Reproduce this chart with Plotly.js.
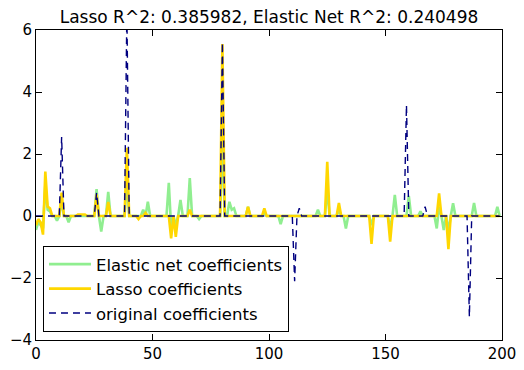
<!DOCTYPE html>
<html>
<head>
<meta charset="utf-8">
<script src="https://cdn.plot.ly/plotly-3.0.1.min.js"></script>
<style>html,body{margin:0;padding:0;background:#fff;}#chart{width:524px;height:370px;}</style>
</head>
<body>
<div id="chart"></div>
<script>
// Elastic net coefficients (index 0..199)
var elasticNet = [
 -0.45,-0.2,-0.3,-0.4,1.0,0.2,0.15,0,0,-0.15, 0,0.5,0,0,-0.2,0,0,0,0,0,
 0,0,0,0,0,0,0.87,0,-0.5,0, 0,0.78,0,0,0,0,0,0,0,1.2,
 0,0,0,0,0,0,0.2,0,0.46,0, 0,0,0,0,0,0,0,1.07,-0.4,0,
 -0.3,0,0.52,0,0,0,1.22,0,0,0, -0.1,0,0,0,0,0,0,0,0,0,
 2.5,0,0,0.46,0.2,0.25,0,0,0,0, 0,0.3,0,0,0,0,0,0,0.1,0,
 0,0,0,0,0,-0.26,0,0,0,0, 0,0,0,0,0,0,0,0,0,0,
 0,0.2,0,0,0,0.9,0,0,0,0, 0.2,0,0,-0.4,0,0,0,0,0,0,
 0,0,0,0,-0.3,0,0,0,0,0, 0,0,-0.4,0,0.68,0,0,0,0,0,
 0.65,0,0,0,0,0.15,0,0,0,0, 0,0,-0.4,0.3,0,-0.45,0,-0.5,0,0.41,
 0,0,0,0,0,0,0,0,0.42,0, 0,0,0,0,0,0,0,0,0.3,0
];
// Lasso coefficients
var lasso = [
 -0.3,-0.1,-0.2,-0.6,1.43,0.3,0.25,0,0,0, 0,0.75,0,0,0,0,0,0,0.05,0.05,
 0.05,0.05,0,0,0,0,0.7,0,0,0, 0,0.45,0,0,0,0,0,0,0,2.2,
 0,0,0,0,-0.1,0,0,0.1,0,0, 0,0,0,0,0,0,0,0,-0.72,0,
 -0.67,0,0,0,0,0,0.2,0,0,0, 0,0,0,0,0,0,0,0,0,0,
 5.55,0,0,0,0,0,0,0,0,0, 0,0.3,0,0,0,0,0,0,0.25,0,
 0,0,0,0,0,0,0,0,0,0, 0,0,0,0,0,0,0,0,0,0,
 0,0,0,0,0,1.75,0,0,0,0, 0.42,0,0,0,0,0,0,0,0,0,
 0,0,0,0,-0.9,0,0,0,0,0, 0,0,-0.83,0,0,0,0,0,0,0,
 0,0,0,0,0,0,0,0,0,0, 0,0,0,0.73,0,0,0,-1.07,0,0,
 0,0,0,0,0,0,0,0,0,0, 0,0,0,0,0,0,0,0,0,0
];
// Original coefficients
var original = [
 0,0,0,0,0,0,0,0,0,0, 0,2.55,0,0,0,0,0,0,0,0,
 0,0,0,0,0,0,0.75,0,0,0, 0,0,0,0,0,0,0,0,0,6.6,
 0,0,0,0,0,0,0,0,0,0, 0,0,0,0,0,0,0,0,0,0,
 0,0,0,0,0,0,0,0,0,0, 0,0,0,0,0,0,0,0,0,0,
 5.6,0,0,0,0,0,0,0,0,0, 0,0,0,0,0,0,0,0,0,0,
 0,0,0,0,0,0,0,0,0,0, 0,-2.1,0,0.25,0,0,0,0,0,0,
 0,0,0,0,0,0,0,0,0,0, 0,0,0,0,0,0,0,0,0,0,
 0,0,0,0,0,0,0,0,0,0, 0,0,0,0,0,0,0,0,0,3.58,
 0,0,0,0,0,0,0,0.3,0,0, 0,0,0,0,0,0,0,0,0,0,
 0,0,0,0,0,0,-3.25,0,0,0, 0,0,0,0,0,0,0,0,0,0
];
var seriesNames = ["Elastic net coefficients", "Lasso coefficients", "original coefficients"];
var xTickVals = [0, 50, 100, 150, 200];
var xTickText = ["0", "50", "100", "150", "200"];
var yTickVals = [-4, -2, 0, 2, 4, 6];
var chartTitle = "Lasso R^2: 0.385982, Elastic Net R^2: 0.240498";

var font = "DejaVu Sans, sans-serif";
var traces = [
  {y: elasticNet, type: "scatter", mode: "lines", name: seriesNames[0], legendgroup: "a",
   line: {color: "#90ee90", width: 2.6}},
  {y: lasso, type: "scatter", mode: "lines", name: seriesNames[1], legendgroup: "b",
   line: {color: "#ffd700", width: 2.6}},
  {y: original, type: "scatter", mode: "lines", name: seriesNames[2], legendgroup: "c",
   line: {color: "#000080", width: 1.4, dash: "7px,5px"}}
];
var axisCommon = {
  showgrid: false, zeroline: false, showline: true, linecolor: "#000", linewidth: 1,
  mirror: "allticks", ticks: "inside", ticklen: 6, tickcolor: "#000", tickwidth: 1,
  tickfont: {family: font, size: 15, color: "#000"}
};
var layout = {
  width: 524, height: 370,
  margin: {l: 36, r: 22, t: 30, b: 30},
  paper_bgcolor: "#fff", plot_bgcolor: "#fff",
  font: {family: font, color: "#000"},
  title: {text: chartTitle, font: {family: font, size: 17, color: "#000"},
          x: 0.5, xref: "paper", y: 1 - 17/370, yref: "container", yanchor: "middle"},
  xaxis: Object.assign({}, axisCommon, {range: [0, 200], tickvals: xTickVals, ticktext: xTickText}),
  yaxis: Object.assign({}, axisCommon, {range: [-4, 6], tickvals: yTickVals}),
  showlegend: true,
  legend: {x: 0.015, y: 0.026, xanchor: "left", yanchor: "bottom",
           bgcolor: "#fff", bordercolor: "#000", borderwidth: 1,
           traceorder: "grouped", tracegroupgap: 0, itemwidth: 42,
           font: {family: font, size: 16.5, color: "#000"}}
};
Plotly.newPlot("chart", traces, layout, {displayModeBar: false, staticPlot: true});
</script>
</body>
</html>
